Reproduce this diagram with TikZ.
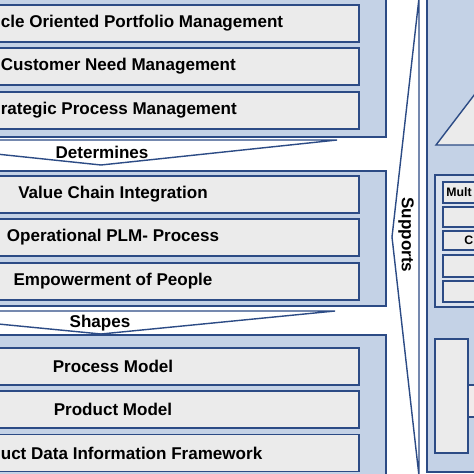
\documentclass[tikz,border=0pt]{standalone}
\usepackage{fontspec}
\setmainfont{Liberation Sans}
\definecolor{plmblue}{HTML}{2C4B85}
\definecolor{plmpanel}{HTML}{C4D2E6}
\definecolor{plmbox}{HTML}{EBEBEB}
\definecolor{plmsub}{HTML}{DAE2EE}
\definecolor{plmpink}{HTML}{F1EBEB}
\begin{document}
\begin{tikzpicture}[x=0.2mm, y=-0.2mm,
	panel/.style={draw=plmblue, fill=plmpanel, line width=0.8pt},
	box/.style={draw=plmblue, fill=plmbox, line width=0.8pt, minimum width=98.4mm, minimum height=7.4mm, inner sep=0pt, font=\bfseries\fontsize{9.7}{11}\selectfont},
	chevron/.style={draw=plmblue, fill=white, line width=0.8pt, line join=miter},
	tag/.style={font=\bfseries\fontsize{9.7}{11}\selectfont},
	small/.style={font=\bfseries\fontsize{7}{8}\selectfont, inner sep=0pt}]
	\useasboundingbox (0,0) rectangle (474,474);
	\fill[white] (0,0) rectangle (474,474);
	\clip (0,0) rectangle (474,474);

	% left column
	\draw[panel] (-160,-40) rectangle (386,137);
	\draw[panel] (-160,171) rectangle (386,306);
	\draw[panel] (-160,335) rectangle (386,520);

	\node[box] (portfolio) at (113,23.5) {};
	\node[tag, anchor=west, inner sep=0pt] (portfoliotext) at (0.5,23.5) {cle Oriented Portfolio Management};
	\node[box] (customer) at (113,66.5) {};
	\node[tag, anchor=west, inner sep=0pt] (customertext) at (0.5,66.5) {Customer Need Management};
	\node[box] (strategic) at (113,110.5) {};
	\node[tag, anchor=west, inner sep=0pt] (strategictext) at (0.5,110.5) {rategic Process Management};

	\node[box] (valuechain) at (113,194.5) {Value Chain Integration};
	\node[box] (operational) at (113,237.5) {Operational PLM- Process};
	\node[box] (empower) at (113,281.5) {Empowerment of People};

	\node[box] (procmodel) at (113,366.5) {Process Model};
	\node[box] (prodmodel) at (113,409.5) {Product Model};
	\node[box] (framework) at (113,453) {};
	\node[tag, anchor=west, inner sep=0pt] (frameworktext) at (0.5,453) {uct Data Information Framework};

	% arrows between the layers
	\draw[chevron] (-137,140) -- (337,140) -- (101,165) -- cycle;
	\node[tag] (determines) at (102,152) {Determines};
	\draw[chevron] (-135,311) -- (335,311) -- (101,334) -- cycle;
	\node[tag] (shapes) at (100,323) {Shapes};
	\draw[chevron] (419,-2) -- (392,237) -- (419,476) -- cycle;
	\node[tag, rotate=-90] (supports) at (406,235) {Supports};

	% right column
	\draw[panel] (427,-20) rectangle (520,472);
	\draw[draw=plmblue, fill=plmbox, line width=0.8pt] (436,145) -- (520,35) -- (600,145) -- cycle;
	\draw[draw=plmblue, fill=plmsub, line width=0.8pt] (435,175) rectangle (520,307);
	\foreach \top/\bot in {182/203, 207/227, 231/250, 255/277, 281/302}
		\draw[draw=plmblue, fill=plmbox, line width=0.8pt] (443,\top) rectangle (520,\bot);
	\node[small, anchor=west] (multi) at (446,192.5) {Mult};
	\node[small, anchor=west] (c) at (464,240.5) {C};
	\draw[draw=plmblue, fill=plmbox, line width=0.8pt] (435,339) rectangle (468,453);
	\draw[draw=plmblue, fill=plmpink, line width=0.8pt] (468,385) rectangle (520,417);
\end{tikzpicture}
\end{document}
